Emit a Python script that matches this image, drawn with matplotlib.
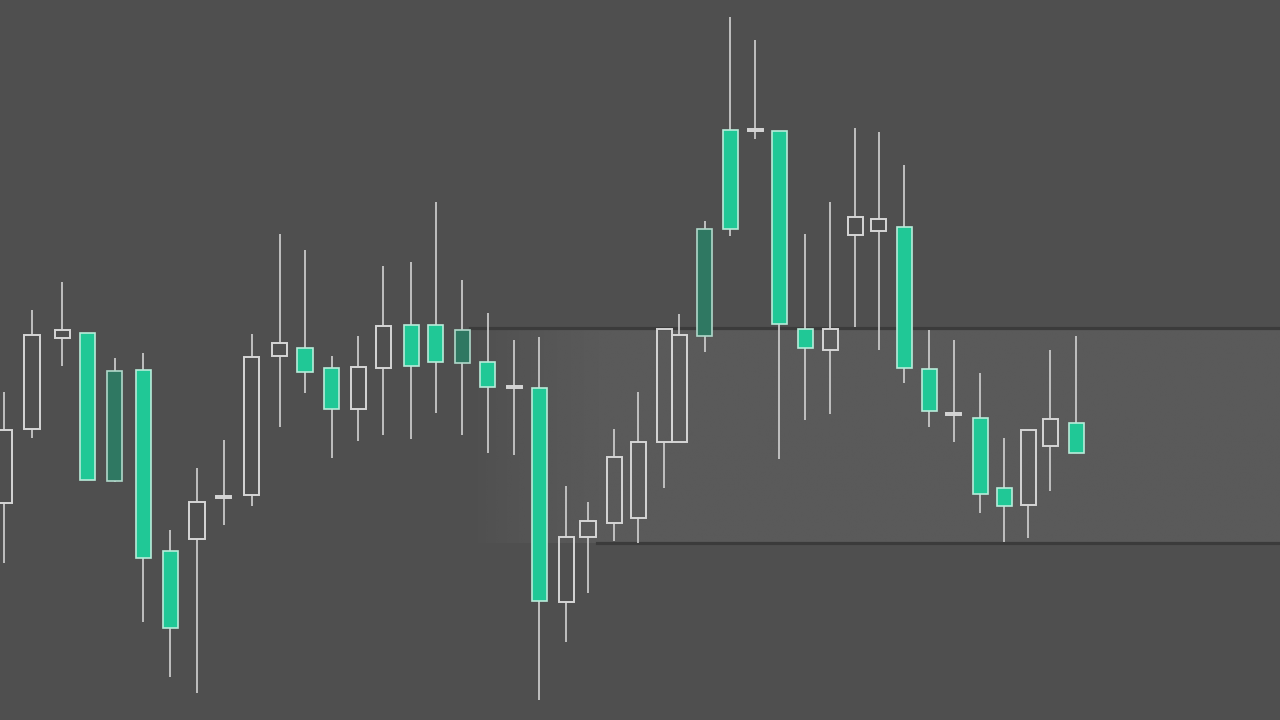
import matplotlib
matplotlib.use("Agg")
import matplotlib.pyplot as plt
import numpy as np
from matplotlib.colors import to_rgb

# time positions of candles
t = [0, 1.06, 2.2, 3.18, 4.2, 5.27, 6.29, 7.31, 8.33, 9.39, 10.45, 11.4, 12.42,
     13.41, 14.36, 15.42, 16.36, 17.35, 18.33, 19.32, 20.27, 21.29, 22.12, 23.11,
     24.02, 25.0, 25.57, 26.55, 27.5, 28.45, 29.36, 30.34, 31.29, 32.24, 33.14,
     34.09, 35.04, 35.98, 36.97, 37.88, 38.79, 39.62, 40.61]

opens = [74.25, 92.75, 115.5, 116.75, 107.25, 107.5, 62.25, 65.25, 75.5, 76.25,
         111, 113, 108, 97.75, 108, 118.75, 118.75, 117.5, 109.5, 103.25, 103,
         49.5, 65.75, 69.25, 70.5, 89.5, 89.5, 142.75, 167.5, 167.5, 167.25,
         117.75, 112.5, 141.25, 142.25, 143.25, 107.75, 96.5, 95.5, 78, 73.75,
         88.5, 94.25]
closes = [92.5, 116.25, 117.5, 80, 79.75, 60.5, 43, 74.5, 75.75, 110.75,
          114.25, 107, 97.75, 108.25, 118.5, 108.5, 109.5, 109.25, 103.25, 103,
          49.75, 65.75, 69.75, 85.75, 89.5, 117.75, 116.25, 116, 142.75, 167.25,
          119, 113, 117.75, 145.75, 145.25, 108, 97.25, 96.25, 76.5, 73.5, 92.5,
          95.25, 86.75]
highs = [102, 122.5, 129.5, 116.75, 110.5, 111.75, 67.5, 83, 90, 116.5, 141.5,
         137.5, 111, 116, 133.5, 134.5, 149.5, 130, 121.75, 115, 115.75, 78.5,
         74.5, 92.75, 102, 117.75, 121.5, 144.75, 195.75, 190, 167.25, 141.5,
         149.5, 168, 167, 158.75, 117.5, 115, 106.75, 90.5, 92.5, 112.5, 116]
lows = [59.25, 90.5, 108.5, 80, 79.5, 44.5, 30.75, 26.75, 68.75, 73.5, 93.25,
        101.75, 85.5, 89.75, 91.25, 90.25, 96.75, 91.25, 86.75, 86.25, 25, 39.5,
        51.75, 64.75, 64.25, 78, 89.5, 112, 141, 165.25, 85.25, 95, 96.5, 118.25,
        112.5, 104.25, 93.25, 89.5, 71.75, 64.5, 65.5, 77.25, 86.75]
# candle kind: 'g' green filled, 'd' dim green, 'h' hollow
kinds = ['h', 'h', 'h', 'g', 'd', 'g', 'g', 'h', 'h', 'h', 'h', 'g', 'g', 'h',
         'h', 'g', 'g', 'd', 'g', 'h', 'g', 'h', 'h', 'h', 'h', 'h', 'h', 'd',
         'g', 'h', 'g', 'g', 'h', 'h', 'h', 'g', 'g', 'h', 'g', 'g', 'h', 'h', 'g']

# highlighted price zone
zone_top = 118.0
zone_bottom = 64.25
zone_start_top = 17.65
zone_start_bottom = 22.46

BG = '#4f4f4f'
ZONE = '#5a5a5a'
fig = plt.figure(figsize=(12.8, 7.2), dpi=100, facecolor=BG)
ax = fig.add_axes([0, 0, 1, 1])
ax.set_facecolor(BG)
xmin, xmax = -0.1515, 48.33
ax.set_xlim(xmin, xmax)
ax.set_ylim(20, 200)
ax.axis('off')

# zone with a soft left edge
ncol = 400
xs = np.linspace(zone_start_top, xmax, ncol)
alpha = np.clip((xs - zone_start_top) / (zone_start_bottom - zone_start_top), 0, 1) ** 0.8
img = np.zeros((1, ncol, 4))
img[..., :3] = to_rgb(ZONE)
img[0, :, 3] = alpha
ax.imshow(img, extent=[zone_start_top, xmax, zone_bottom, zone_top],
          aspect='auto', interpolation='bilinear', zorder=0)
ax.plot([zone_start_top, 50], [zone_top, zone_top], color='#3b3b3b', lw=2.3, zorder=1)
ax.plot([zone_start_bottom, 50], [zone_bottom, zone_bottom], color='#3b3b3b', lw=2.3, zorder=1)
ax.set_xlim(xmin, xmax)
ax.set_ylim(20, 200)

tt = np.array(t)
o = np.array(opens)
c = np.array(closes)
h = np.array(highs)
l = np.array(lows)
btop = np.maximum(o, c)
bbot = np.minimum(o, c)

ax.vlines(tt, btop, h, color='#c8c8c8', lw=1.3, zorder=2)
ax.vlines(tt, l, bbot, color='#c8c8c8', lw=1.3, zorder=2)

width = 0.57
styles = {
    'g': dict(facecolor='#20c896', edgecolor='#b8ecda', lw=1.2),
    'd': dict(facecolor='#2f7862', edgecolor='#b0d8ca', lw=1.2),
    'h': dict(facecolor='none', edgecolor='#d6d6d6', lw=1.4),
}
for k in ['h', 'd', 'g']:
    idx = [i for i, kk in enumerate(kinds) if kk == k]
    heights = np.maximum(btop[idx] - bbot[idx], 0.6)
    ax.bar(tt[idx], heights, bottom=bbot[idx], width=width, zorder=3, **styles[k])

fig.savefig('out.png', dpi=100, facecolor=BG)
